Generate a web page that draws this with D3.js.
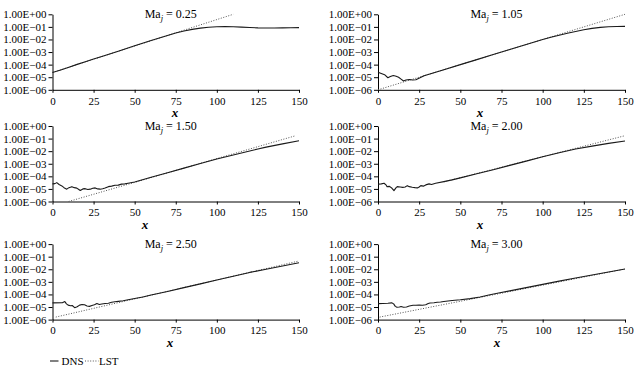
<!DOCTYPE html>
<html>
<head>
<meta charset="utf-8">
<script src="https://cdn.jsdelivr.net/npm/d3@7"></script>
<style>
  body { margin: 0; background: #fff; }
  svg text { font-family: "Liberation Serif", Tinos, "Times New Roman", serif; font-stretch: normal; }
</style>
</head>
<body>
<svg id="chart" width="635" height="367"></svg>
<script>
// ---- data: [x, log10(amplitude)] ----
var xTicks = [0, 25, 50, 75, 100, 125, 150];
var yTickExps = [-6, -5, -4, -3, -2, -1, 0];
var machLabels = ['0.25', '1.05', '1.50', '2.00', '2.50', '3.00'];

var dns025 = [[0,-4.62],[2,-4.54],[5,-4.43],[10,-4.2],[15,-3.98],[20,-3.77],[25,-3.56],[30,-3.35],[40,-2.93],
  [50,-2.5],[60,-2.08],[70,-1.68],[75,-1.49],[80,-1.33],[85,-1.2],[90,-1.1],[95,-1.03],[100,-0.99],[105,-0.98],
  [110,-0.99],[115,-1.02],[120,-1.05],[125,-1.08],[130,-1.09],[135,-1.09],[140,-1.08],[145,-1.07],[150,-1.06]];
var lst025 = [[0,-4.62],[110,0.0]];

var dns105 = [[0,-4.6],[2,-4.7],[4,-4.8],[6,-5.04],[7.5,-4.95],[9.3,-4.86],[11,-4.92],[12.5,-5.0],[14,-5.15],
  [15.5,-5.3],[17,-5.22],[19,-5.18],[21,-5.22],[23,-5.2],[25.5,-5.05],[28,-4.88],[32,-4.72],[40,-4.4],[50,-4.0],
  [60,-3.6],[70,-3.2],[80,-2.8],[90,-2.4],[100,-2.01],[105,-1.83],[110,-1.66],[115,-1.5],[120,-1.36],[125,-1.23],
  [130,-1.12],[135,-1.04],[140,-0.99],[145,-0.97],[150,-0.96]];
var lst105 = [[0,-6.0],[150,0.0]];

var dns150 = [[0,-4.6],[1.5,-4.58],[2.6,-4.5],[4,-4.65],[5.7,-4.76],[7,-4.9],[8.7,-5.02],[10,-4.9],[11.8,-4.82],
  [13.3,-4.9],[14.8,-4.94],[16,-5.05],[16.9,-5.13],[18.5,-5.0],[19.9,-4.98],[21.5,-5.05],[23,-5.02],[24.5,-4.95],
  [26,-4.92],[27.5,-5.0],[29,-5.02],[30.5,-4.98],[32,-4.93],[34,-4.82],[36,-4.78],[38,-4.71],[40,-4.7],[42,-4.62],
  [44,-4.6],[46,-4.55],[50,-4.45],[60,-4.08],[70,-3.72],[80,-3.35],[90,-2.98],[100,-2.62],[110,-2.3],[120,-1.98],
  [125,-1.83],[130,-1.68],[140,-1.42],[150,-1.17]];
var lst150 = [[9.8,-6.0],[148,-0.77]];

var dns200 = [[0,-4.63],[2,-4.6],[3.7,-4.55],[5,-4.7],[5.5,-4.82],[7,-4.8],[8.5,-4.95],[9.7,-5.13],[11,-4.9],
  [11.7,-4.82],[13.5,-4.85],[15,-4.88],[16.5,-4.85],[17.8,-4.74],[19,-4.82],[20.8,-4.87],[22.5,-4.9],[23.9,-4.92],
  [25,-4.85],[26,-4.74],[27.5,-4.78],[29,-4.68],[31,-4.6],[32.5,-4.65],[35,-4.55],[40,-4.42],[45,-4.28],[50,-4.12],
  [60,-3.8],[70,-3.47],[80,-3.13],[90,-2.79],[100,-2.45],[110,-2.13],[120,-1.83],[130,-1.6],[140,-1.38],[150,-1.19]];
var lst200 = [[40,-4.44],[150,-0.77]];

var dns250 = [[0,-4.67],[6,-4.66],[7.5,-4.57],[8.5,-4.75],[9.5,-4.85],[11,-4.9],[12,-4.88],[13.5,-5.05],[15,-4.98],
  [16.5,-4.85],[18,-4.8],[19.5,-4.82],[21,-4.92],[22.5,-4.95],[24,-4.88],[25.5,-4.82],[27,-4.72],[28.5,-4.8],
  [30,-4.76],[32,-4.72],[34,-4.7],[36,-4.62],[38,-4.58],[40,-4.55],[43,-4.5],[46,-4.42],[50,-4.32],[55,-4.2],
  [60,-4.05],[70,-3.76],[80,-3.46],[90,-3.16],[100,-2.85],[110,-2.55],[120,-2.25],[130,-2.0],[140,-1.74],[150,-1.48]];
var lst250 = [[2,-5.8],[150,-1.34]];

var dns300 = [[0,-4.73],[3,-4.72],[6,-4.7],[8.3,-4.67],[9.5,-4.75],[10.5,-4.95],[11.5,-5.02],[13,-5.0],[14,-4.96],
  [15.5,-5.02],[17.3,-5.0],[19,-4.92],[21.3,-4.86],[23,-4.86],[25,-4.85],[27,-4.86],[29,-4.82],[30.5,-4.72],
  [31.6,-4.68],[34,-4.66],[36,-4.62],[38,-4.6],[40,-4.56],[45,-4.48],[50,-4.42],[56,-4.33],[62,-4.2],[68,-4.02],
  [74,-3.86],[80,-3.72],[90,-3.46],[100,-3.2],[110,-2.94],[120,-2.7],[130,-2.46],[140,-2.22],[150,-1.98]];
var lst300 = [[1,-5.8],[150,-1.98]];

// ---- layout ----
var FONT = '"Liberation Serif", Tinos, "Times New Roman", serif';
var svg = d3.select('#chart');
var colX = [[52.5, 299], [378, 625]];
var rowTop = [14.3, 126, 244.1],
    plotH = 75.5;
var xLabelPos = [175, 480, 145, 480, 170, 497];

var panels = [
  {dns: dns025, lst: lst025},
  {dns: dns105, lst: lst105},
  {dns: dns150, lst: lst150},
  {dns: dns200, lst: lst200},
  {dns: dns250, lst: lst250},
  {dns: dns300, lst: lst300}
];

var fmtE = function (d) {
  var e = Math.round(Math.log10(d));
  return '1.00E' + (e < 0 ? '\u2212' : '+') + String(Math.abs(e)).padStart(2, '0');
};

var styleTicks = function (a) {
  a.attr('font-family', FONT);
  a.selectAll('text')
    .style('font-size', '11px')
    .style('font-family', FONT)
    .attr('fill', '#000');
};

panels.forEach(function (p, i) {
  var col = i % 2, row = Math.floor(i / 2);
  var x = d3.scaleLinear().domain([0, 150]).range(colX[col]);
  var y = d3.scaleLog().domain([1e-6, 1]).range([rowTop[row] + plotH, rowTop[row]]);

  var g = svg.append('g');

  // y axis
  g.append('g')
    .attr('transform', 'translate(' + colX[col][0] + ',0)')
    .call(d3.axisLeft(y)
      .tickValues(yTickExps.map(function (e) { return Math.pow(10, e); }))
      .tickFormat(fmtE)
      .tickSize(4).tickSizeOuter(0).tickPadding(2))
    .call(styleTicks);

  // x axis
  g.append('g')
    .attr('transform', 'translate(0,' + (rowTop[row] + plotH) + ')')
    .call(d3.axisBottom(x)
      .tickValues(xTicks)
      .tickSize(3).tickSizeOuter(0).tickPadding(4))
    .call(styleTicks);

  var line = d3.line()
    .x(function (d) { return x(d[0]); })
    .y(function (d) { return y(Math.pow(10, d[1])); });

  // LST dotted first, DNS on top
  g.append('path')
    .attr('d', line(p.lst))
    .attr('fill', 'none')
    .attr('stroke', '#555')
    .attr('stroke-width', 1)
    .attr('stroke-dasharray', '1,1.6');

  g.append('path')
    .attr('d', line(p.dns))
    .attr('fill', 'none')
    .attr('stroke', '#1a1a1a')
    .attr('stroke-width', 1.1)
    .attr('stroke-linejoin', 'round');

  // title  Ma_j = ...
  var cx = (colX[col][0] + colX[col][1]) / 2 - 5;
  var t = g.append('text')
    .attr('x', cx)
    .attr('y', rowTop[row] + 3.5)
    .attr('text-anchor', 'middle')
    .style('font-family', FONT)
    .style('font-size', '12px')
    .attr('fill', '#000');
  t.append('tspan').text('Ma');
  t.append('tspan').attr('dy', 3).style('font-size', '8.5px').style('font-style', 'italic').text('j');
  t.append('tspan').attr('dy', -3).text(' = ' + machLabels[i]);

  // x label
  g.append('text')
    .attr('x', xLabelPos[i])
    .attr('y', rowTop[row] + plotH + 27)
    .attr('text-anchor', 'middle')
    .style('font-family', FONT)
    .style('font-size', '13px')
    .style('font-style', 'italic')
    .style('font-weight', 'bold')
    .attr('fill', '#000')
    .text('x');
});

// legend
var leg = svg.append('g').attr('transform', 'translate(0,361)');
leg.append('line').attr('x1', 50).attr('x2', 58.5).attr('y1', 0).attr('y2', 0)
  .attr('stroke', '#1a1a1a').attr('stroke-width', 1.1);
leg.append('text').attr('x', 61.5).attr('y', 4).style('font-family', FONT).style('font-size', '11px').text('DNS');
leg.append('line').attr('x1', 85).attr('x2', 98.5).attr('y1', 0).attr('y2', 0)
  .attr('stroke', '#555').attr('stroke-width', 1).attr('stroke-dasharray', '1,1.6');
leg.append('text').attr('x', 99).attr('y', 4).style('font-family', FONT).style('font-size', '11px').text('LST');
</script>
</body>
</html>
